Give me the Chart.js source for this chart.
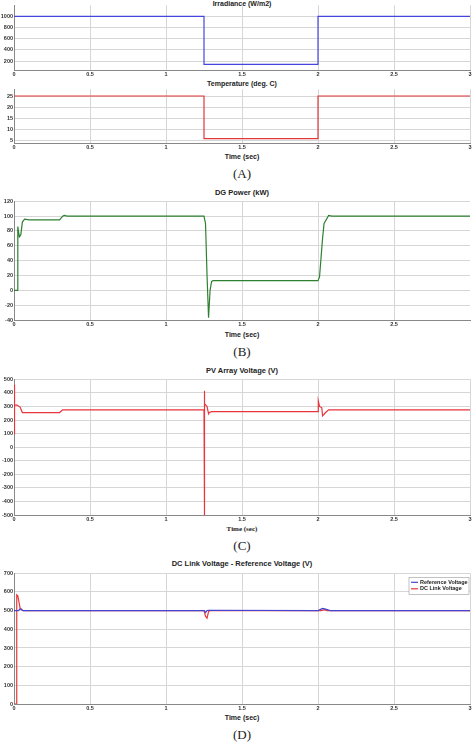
<!DOCTYPE html>
<html><head><meta charset="utf-8">
<script src="https://cdn.jsdelivr.net/npm/chart.js@4.4.1/dist/chart.umd.min.js"></script>
<style>
body{margin:0;background:#fff;width:474px;height:742px;position:relative;overflow:hidden;font-family:"Liberation Sans",Arial,sans-serif}
.cv{position:absolute;left:0;width:474px}
.t{position:absolute;left:14px;width:456px;text-align:center;font-weight:bold;font-size:7px;color:#222;line-height:8px}
.cap{position:absolute;left:14px;width:456px;text-align:center;font-family:"Liberation Serif","DejaVu Serif",serif;font-size:13px;color:#222;line-height:14px}
</style></head><body>
<div class="t" style="top:0px">Irradiance (W/m2)</div>
<div class="t" style="top:80px">Temperature (deg. C)</div>
<div class="t" style="top:153px">Time (sec)</div>
<div class="cap" style="top:167px">(A)</div>
<div class="t" style="top:189px;font-size:7.5px">DG Power (kW)</div>
<div class="t" style="top:331px">Time (sec)</div>
<div class="cap" style="top:345px">(B)</div>
<div class="t" style="top:367px;font-size:7.5px">PV Array Voltage (V)</div>
<div class="t" style="top:525px;font-family:'Liberation Serif',serif">Time (sec)</div>
<div class="cap" style="top:539px">(C)</div>
<div class="t" style="top:560px;font-size:7.5px">DC Link Voltage - Reference Voltage (V)</div>
<div class="t" style="top:714px">Time (sec)</div>
<div class="cap" style="top:728px">(D)</div>
<div class="cv" style="top:1px;height:79px"><canvas id="c1"></canvas></div>
<div class="cv" style="top:85px;height:68px"><canvas id="c2"></canvas></div>
<div class="cv" style="top:197px;height:133px"><canvas id="c3"></canvas></div>
<div class="cv" style="top:375px;height:150px"><canvas id="c4"></canvas></div>
<div class="cv" style="top:569px;height:145px"><canvas id="c5"></canvas></div>
<script>
const irrT=[0,1.25,1.25,2,2,3];
const irrV=[1000,1000,140,140,1000,1000];
const tempT=[0,1.25,1.25,2,2,3];
const tempV=[25,25,6,6,25,25];
const dgT=[0,0.02,0.025,0.035,0.045,0.055,0.07,0.1,0.3,0.32,0.33,0.35,1.25,1.26,1.27,1.28,1.29,1.3,1.31,2.0,2.01,2.03,2.04,2.07,2.09,3];
const dgV=[0,0,86,72,75,92,96,95,95,100,101,100,100,90,20,-37,0,12,13,13,18,70,90,101,100,100];
const pvT=[0,0.002,0.005,0.02,0.04,0.055,0.3,0.32,1.25,1.252,1.253,1.255,1.27,1.28,1.285,1.3,2.0,2.002,2.01,2.025,2.03,2.05,2.07,3];
const pvV=[100,460,310,310,295,255,255,275,275,415,-500,320,300,245,255,262,262,340,300,290,230,255,275,275];
const refT=[0,0.03,0.04,0.06,1.25,1.26,1.27,1.28,2.0,2.03,2.05,2.08,3];
const refV=[500,500,510,500,500,490,500,502,500,512,508,500,500];
const dcT=[0,0.015,0.018,0.025,0.04,0.06,1.25,1.26,1.27,1.28,1.29,2.02,2.04,2.06,3];
const dcV=[0,0,585,580,515,500,500,470,460,495,500,500,505,500,500];
const xTicks=[0,0.5,1,1.5,2,2.5,3];
const xTicksB=[0,0.5,1,1.5,2,2.5];
const irrTicks=[200,400,600,800,1000];
const tempTicks=[5,10,15,20,25];
const dgTicks=[-40,-20,0,20,40,60,80,100,120];
const pvTicks=[-500,-400,-300,-200,-100,0,100,200,300,400,500];
const dcTicks=[0,100,200,300,400,500,600,700];

const pts=(t,v)=>t.map((x,i)=>({x:x,y:v[i]}));
const font={family:"Liberation Sans",size:5.5,weight:'bold'};
const boxLegend={id:'boxLegend',afterDraw(ch,args,opts){
  if(!opts.show)return;
  const c=ch.ctx,a=ch.chartArea,ds=ch.data.datasets;
  const w=60,h=4+ds.length*6.5,x=a.right-w-1,y=a.top+4;
  c.save();c.fillStyle='#fff';c.fillRect(x,y,w,h);c.strokeStyle='#999';c.lineWidth=0.6;c.strokeRect(x,y,w,h);
  c.font='bold 5.5px "Liberation Sans"';c.textBaseline='middle';
  ds.forEach((d,i)=>{const yy=y+5+i*6.5;c.strokeStyle=d.borderColor;c.lineWidth=1.2;c.beginPath();c.moveTo(x+2,yy);c.lineTo(x+9,yy);c.stroke();c.fillStyle='#222';c.fillText(d.label,x+11,yy);});
  c.restore();}};
function make(id,datasets,ymin,ymax,yt,xt,legend){
  new Chart(document.getElementById(id),{type:'line',
    data:{datasets:datasets.map(d=>({label:d.label,data:d.data,borderColor:d.color,backgroundColor:d.color,borderWidth:1.2,pointRadius:0,tension:0}))},
    plugins:[boxLegend],
    options:{responsive:true,maintainAspectRatio:false,animation:false,
      layout:{padding:{top:4,right:4,left:0,bottom:0}},
      plugins:{title:{display:false},tooltip:{enabled:false},legend:{display:false},boxLegend:{show:!!legend}},
      scales:{
        x:{type:'linear',min:0,max:3,afterBuildTicks:a=>{a.ticks=xt.map(v=>({value:v}))},
          afterFit:a=>{a.height=10},
          ticks:{font:font,color:'#333',padding:1,maxRotation:0,callback:v=>String(v)},
          grid:{color:'#d6d6d6',tickLength:0},border:{color:'#888'}},
        y:{min:ymin,max:ymax,afterBuildTicks:a=>{a.ticks=yt.map(v=>({value:v}))},
          afterFit:a=>{a.width=14},
          ticks:{font:font,color:'#333',padding:1,callback:v=>String(v)},
          grid:{color:'#d6d6d6',tickLength:0},border:{color:'#888'}}
      }}});
}
make('c1',[{label:'Irradiance',data:pts(irrT,irrV),color:'#4545e0'}],40,1200,irrTicks,xTicks);
make('c2',[{label:'Temperature',data:pts(tempT,tempV),color:'#e03838'}],4,28,tempTicks,xTicks);
make('c3',[{label:'DG Power',data:pts(dgT,dgV),color:'#2e8030'}],-40,120,dgTicks,xTicksB);
make('c4',[{label:'PV Array Voltage',data:pts(pvT,pvV),color:'#e8343c'}],-500,500,pvTicks,xTicks);
make('c5',[{label:'Reference Voltage',data:pts(refT,refV),color:'#4545d0'},{label:'DC Link Voltage',data:pts(dcT,dcV),color:'#e83838'}],0,700,dcTicks,xTicks,true);
</script></body></html>
